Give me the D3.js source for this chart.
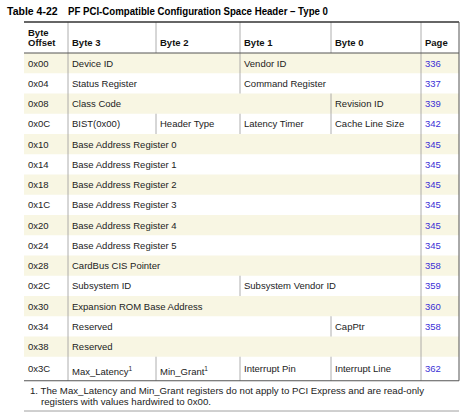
<!DOCTYPE html><html><head><meta charset="utf-8">
<script src="https://cdn.jsdelivr.net/npm/d3@7"></script>
<style>body{margin:0;background:#fff}</style></head><body><svg id="c" width="474" height="416"></svg>
<script>
const headers = ["Byte 3","Byte 2","Byte 1","Byte 0"];
const offsets = ["0x00","0x04","0x08","0x0C","0x10","0x14","0x18","0x1C","0x20","0x24","0x28","0x2C","0x30","0x34","0x38","0x3C"];
const fields = [
 [["Device ID",2],["Vendor ID",2]],
 [["Status Register",2],["Command Register",2]],
 [["Class Code",3],["Revision ID",1]],
 [["BIST(0x00)",1],["Header Type",1],["Latency Timer",1],["Cache Line Size",1]],
 [["Base Address Register 0",4]],
 [["Base Address Register 1",4]],
 [["Base Address Register 2",4]],
 [["Base Address Register 3",4]],
 [["Base Address Register 4",4]],
 [["Base Address Register 5",4]],
 [["CardBus CIS Pointer",4]],
 [["Subsystem ID",2],["Subsystem Vendor ID",2]],
 [["Expansion ROM Base Address",4]],
 [["Reserved",3],["CapPtr",1]],
 [["Reserved",4]],
 [["Max_Latency|1",1],["Min_Grant|1",1],["Interrupt Pin",1],["Interrupt Line",1]]
];
const pages = ["336","337","339","342","345","345","345","345","345","345","358","359","360","358","","362"];

const svg=d3.select("#c");
const F="Helvetica, 'Liberation Sans', Arial, sans-serif";
const colX=[24,68,156,240,331,421,459];
const bx=i=>colX[i+1];
const rowTop=53, rh=20.25;
const y=i=>rowTop+i*rh;
const lastH=24;
const bottom=y(15)+lastH;

svg.append("text").attr("x",7).attr("y",15).attr("font-family",F).attr("font-weight","bold").attr("font-size",10.5).text("Table 4-22");
svg.append("text").attr("x",68).attr("y",15).attr("font-family",F).attr("font-weight","bold").attr("font-size",10.5).attr("textLength",260).attr("lengthAdjust","spacingAndGlyphs").text("PF PCI-Compatible Configuration Space Header \u2013 Type 0");

offsets.forEach((o,i)=>{ if(i%2===0) svg.append("rect").attr("x",24).attr("y",y(i)).attr("width",435).attr("height",i===15?lastH:rh).attr("fill","#f8f6e3");});

const hg=svg.append("g").attr("font-family",F).attr("font-weight","bold").attr("font-size",9.5).attr("fill","#111");
hg.append("text").attr("x",28).attr("y",36).text("Byte");
hg.append("text").attr("x",28).attr("y",46).text("Offset");
headers.forEach((h,i)=>hg.append("text").attr("x",bx(i)+4).attr("y",46).text(h));
hg.append("text").attr("x",425).attr("y",46).text("Page");
const lc="#999";
[68,156,240,331,421].forEach(v=>svg.append("line").attr("x1",v).attr("x2",v).attr("y1",22).attr("y2",rowTop).attr("stroke",lc).attr("stroke-width",0.8));

const tg=svg.append("g").attr("font-family",F).attr("font-size",9.5).attr("fill","#222");
offsets.forEach((o,i)=>{
  const h=i===15?lastH:rh, ty=y(i)+h/2+3.5;
  tg.append("text").attr("x",28).attr("y",ty).text(o);
  let c=0;
  fields[i].forEach(([lab,sp])=>{
    if(c>0) svg.append("line").attr("x1",bx(c)).attr("x2",bx(c)).attr("y1",y(i)).attr("y2",y(i)+h).attr("stroke",lc).attr("stroke-width",0.8);
    const [t,sup]=lab.split("|");
    const te=tg.append("text").attr("x",bx(c)+4).attr("y",i===15&&c<2?ty+3:ty).text(t);
    if(sup) te.append("tspan").attr("dy",-4).attr("font-size",6.5).text(sup);
    c+=sp;
  });
  svg.append("text").attr("x",425).attr("y",ty).attr("font-family",F).attr("font-size",9.5).attr("fill","#3b2fd6").text(pages[i]);
});
[68,421].forEach(v=>svg.append("line").attr("x1",v).attr("x2",v).attr("y1",rowTop).attr("y2",bottom).attr("stroke",lc).attr("stroke-width",0.8));
svg.append("line").attr("x1",24).attr("x2",459).attr("y1",22).attr("y2",22).attr("stroke","#333").attr("stroke-width",1.6);
svg.append("line").attr("x1",24).attr("x2",459).attr("y1",rowTop).attr("y2",rowTop).attr("stroke","#555").attr("stroke-width",1);
svg.append("line").attr("x1",24).attr("x2",459).attr("y1",bottom).attr("y2",bottom).attr("stroke","#555").attr("stroke-width",1);
svg.append("line").attr("x1",459).attr("x2",459).attr("y1",22).attr("y2",bottom).attr("stroke","#555").attr("stroke-width",1);
svg.append("line").attr("x1",24).attr("x2",459).attr("y1",411).attr("y2",411).attr("stroke","#888").attr("stroke-width",0.8);
const fg=svg.append("g").attr("font-family",F).attr("font-size",9.5).attr("fill","#222");
fg.append("text").attr("x",30).attr("y",394).attr("textLength",394).attr("lengthAdjust","spacingAndGlyphs").text("1. The Max_Latency and Min_Grant registers do not apply to PCI Express and are read-only");
fg.append("text").attr("x",41).attr("y",405).attr("textLength",170).attr("lengthAdjust","spacingAndGlyphs").text("registers with values hardwired to 0x00.");
</script></body></html>
